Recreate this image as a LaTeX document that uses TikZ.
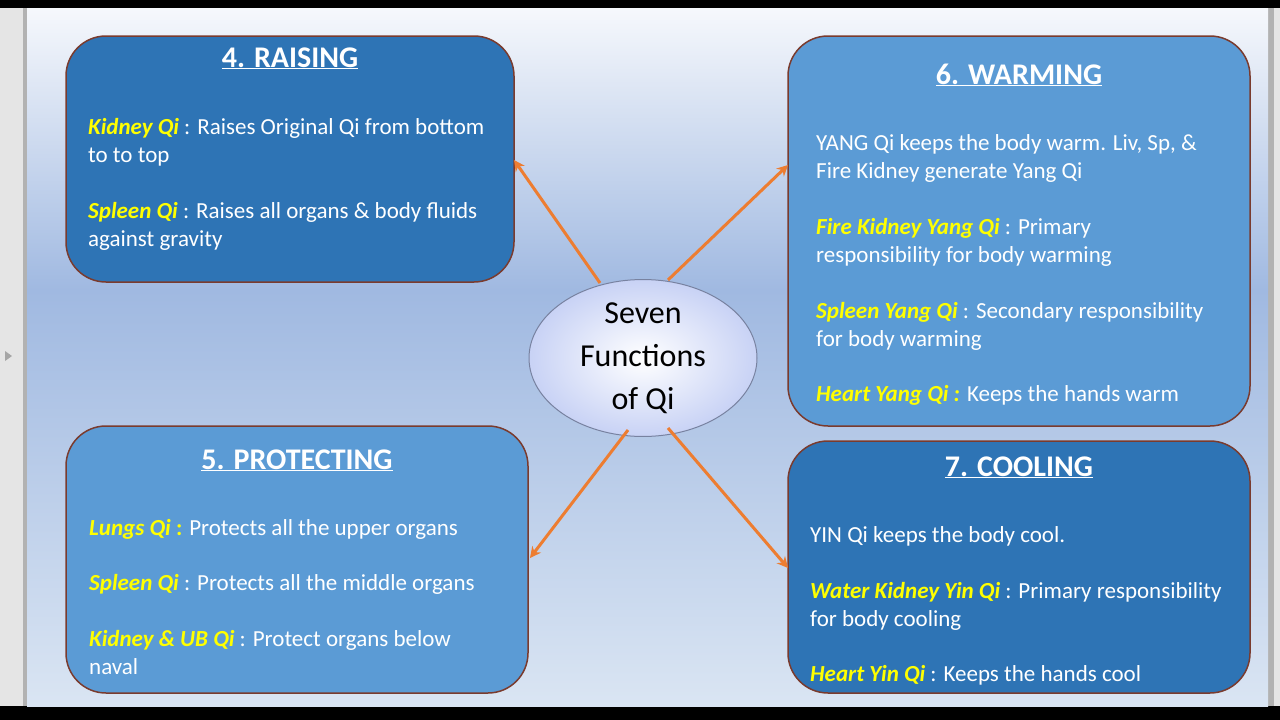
\documentclass[tikz,border=0pt]{standalone}
\usepackage{fontspec}
\setmainfont{Carlito}
\usetikzlibrary{shapes.geometric,arrows.meta}
\definecolor{darkb}{HTML}{2E74B5}
\definecolor{lightb}{HTML}{5B9BD5}
\definecolor{edge}{HTML}{7A3B2E}
\definecolor{arr}{HTML}{ED7D31}
\definecolor{yel}{HTML}{FFFF00}
\tikzset{
 box/.style={draw=edge,line width=1.5,rounded corners=40},
 ttl/.style={text=white,font=\fontsize{30}{34}\selectfont\bfseries,anchor=base},
 body/.style={text=white,font=\fontsize{23}{28}\selectfont,anchor=base west,inner sep=0},
 con/.style={draw=arr,line width=3,-{Stealth[length=11,width=11]}}
}
\newcommand{\hl}[1]{\textcolor{yel}{\textbf{\textit{#1}}}}
\newcommand{\ul}[1]{\underline{#1}}
\begin{document}
\begin{tikzpicture}[x=1pt,y=-1pt]
\useasboundingbox (0,0) rectangle (1280,720);
\fill[black] (0,0) rectangle (1280,720);
\fill[gray!20] (0,8) rectangle (1280,706);
\fill[gray!60] (23,8) rectangle (27,706);
\fill[gray!60] (1268,8) rectangle (1274,706);
\shade[top color={rgb,255:red,246;green,248;blue,252},bottom color={rgb,255:red,160;green,185;blue,225}] (27,8) rectangle (1268,290);
\shade[top color={rgb,255:red,160;green,185;blue,225},bottom color={rgb,255:red,218;green,229;blue,243}] (27,290) rectangle (1268,706);
\fill[gray!70] (5,351) -- (12,356) -- (5,361) -- cycle;
% boxes
\draw[box,fill=darkb] (66,36) rectangle (514,282);
\draw[box,fill=lightb] (788,36) rectangle (1250,426);
\draw[box,fill=lightb] (66,426) rectangle (528,693);
\draw[box,fill=darkb] (788,441) rectangle (1250,693);
\coordinate (b4) at (514,160);
\coordinate (b6) at (788,165);
\coordinate (b5) at (530,558);
\coordinate (b7) at (788,568);
% center
\node[ellipse,draw={rgb,255:red,120;green,130;blue,160},line width=1,minimum width=228,minimum height=146,inner sep=0,
  inner color=white,outer color={rgb,255:red,200;green,210;blue,245},
  font=\fontsize{32}{43}\selectfont,align=center] (c) at (643,358) {Seven\\Functions\\of Qi};
\coordinate (s4) at (600,283);
\coordinate (s6) at (668,280);
\coordinate (s5) at (628,430);
\coordinate (s7) at (668,428);
\draw[con] (s4) -- (b4);
\draw[con] (s6) -- (b6);
\draw[con] (s5) -- (b5);
\draw[con] (s7) -- (b7);
% titles
\node[ttl] (t4) at (290,67) {\ul{4. RAISING}};
\node[ttl] (t6) at (1019,84) {\ul{6. WARMING}};
\node[ttl] (t5) at (297,469) {\ul{5. PROTECTING}};
\node[ttl] (t7) at (1019,476) {\ul{7. COOLING}};
% box 4
\node[body] (r1) at (88,134) {\hl{Kidney Qi} : Raises Original Qi from bottom};
\node[body] (r1b) at (88,162) {to to top};
\node[body] (r2) at (88,218) {\hl{Spleen Qi} : Raises all organs \& body fluids};
\node[body] (r2b) at (88,246) {against gravity};
% box 6
\node[body] (w1) at (816,150) {YANG Qi keeps the body warm. Liv, Sp, \&};
\node[body] (w1b) at (816,178) {Fire Kidney generate Yang Qi};
\node[body] (w2) at (816,234) {\hl{Fire Kidney Yang Qi} : Primary};
\node[body] (w2b) at (816,262) {responsibility for body warming};
\node[body] (w3) at (816,318) {\hl{Spleen Yang Qi} : Secondary responsibility};
\node[body] (w3b) at (816,346) {for body warming};
\node[body] (w4) at (816,401) {\hl{Heart Yang Qi :} Keeps the hands warm};
% box 5
\node[body] (p1) at (89,535) {\hl{Lungs Qi} \textcolor{yel}{\textbf{:}} Protects all the upper organs};
\node[body] (p2) at (89,590) {\hl{Spleen Qi} : Protects all the middle organs};
\node[body] (p3) at (89,646) {\hl{Kidney \& UB Qi} : Protect organs below};
\node[body] (p3b) at (89,674) {naval};
% box 7
\node[body] (k1) at (810,542) {YIN Qi keeps the body cool.};
\node[body] (k2) at (810,598) {\hl{Water Kidney Yin Qi} : Primary responsibility};
\node[body] (k2b) at (810,626) {for body cooling};
\node[body] (k3) at (810,681) {\hl{Heart Yin Qi} : Keeps the hands cool};
\end{tikzpicture}
\end{document}
